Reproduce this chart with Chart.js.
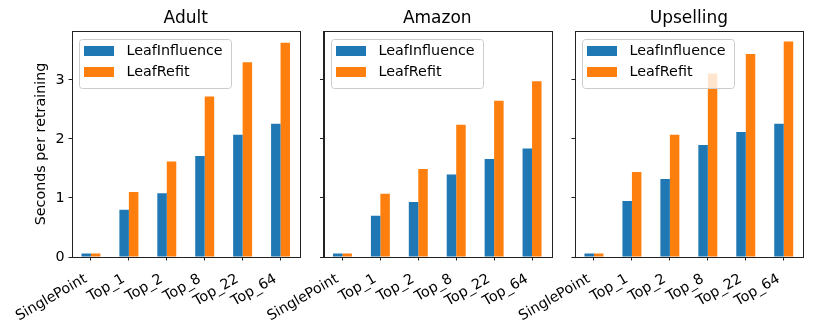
<!DOCTYPE html>
<html>
<head>
<meta charset="utf-8">
<script src="https://cdn.jsdelivr.net/npm/chart.js@4.4.0/dist/chart.umd.min.js"></script>
<style>
  html, body { margin: 0; padding: 0; background: #fff; }
  #wrap { position: relative; width: 818px; height: 322px; }
  #wrap canvas { position: absolute; left: 0; top: 0; }
</style>
</head>
<body>
<div id="wrap">
  <canvas id="c0"></canvas>
  <canvas id="c1"></canvas>
  <canvas id="c2"></canvas>
</div>
<script>
// data
const categories = ['SinglePoint', 'Top_1', 'Top_2', 'Top_8', 'Top_22', 'Top_64'];
const panelTitles = ['Adult', 'Amazon', 'Upselling'];
const seriesNames = ['LeafInfluence', 'LeafRefit'];
const adultInfluence = [0.06, 0.80, 1.08, 1.71, 2.07, 2.26];
const adultRefit = [0.06, 1.10, 1.62, 2.72, 3.30, 3.63];
const amazonInfluence = [0.06, 0.70, 0.93, 1.40, 1.66, 1.84];
const amazonRefit = [0.06, 1.07, 1.49, 2.24, 2.65, 2.98];
const upsellingInfluence = [0.06, 0.95, 1.32, 1.90, 2.12, 2.26];
const upsellingRefit = [0.06, 1.44, 2.07, 3.11, 3.44, 3.65];
const yTicks = [0, 1, 2, 3];
const yMax = 3.83;

const FONT = 'DejaVu Sans';
const FS = 14.3;
const W = 818, H = 322;
const plotLeft = [72, 323.5, 575];
const plotRight = [299.5, 551, 802.7];
const plotBottom = 257;

Chart.defaults.font.family = FONT;
Chart.defaults.color = '#000';

// box around the axes + legend drawn inside like matplotlib
const framePlugin = {
  id: 'frame',
  afterDraw(chart) {
    const ctx = chart.ctx, ca = chart.chartArea;
    ctx.save();
    ctx.strokeStyle = '#222';
    ctx.lineWidth = 1;
    ctx.strokeRect(Math.round(ca.left) + 0.5, Math.round(ca.top) + 0.5,
                   Math.round(ca.right - ca.left), Math.round(ca.bottom - ca.top));

    const x0 = Math.round(ca.left) + 7, y0 = Math.round(ca.top) + 8;
    ctx.beginPath();
    ctx.roundRect(x0 + 0.5, y0 + 0.5, 152, 49, 3);
    ctx.fillStyle = 'rgba(255,255,255,0.8)';
    ctx.fill();
    ctx.strokeStyle = '#cccccc';
    ctx.stroke();
    ctx.font = FS + 'px "' + FONT + '"';
    ctx.textBaseline = 'middle';
    chart.data.datasets.forEach((ds, i) => {
      const py = y0 + 7 + i * 21;
      ctx.fillStyle = ds.backgroundColor;
      ctx.fillRect(x0 + 5, py, 30, 10);
      ctx.fillStyle = '#000';
      ctx.fillText(ds.label, x0 + 47.5, py + 5.5);
    });
    ctx.restore();
  }
};

function makePanel(idx, influence, refit) {
  const canvas = document.getElementById('c' + idx);
  canvas.width = W; canvas.height = H;
  canvas.style.width = W + 'px'; canvas.style.height = H + 'px';
  const yW = idx === 0 ? 38.9 : 10;
  new Chart(canvas, {
    type: 'bar',
    data: {
      labels: categories,
      datasets: [
        { label: seriesNames[0], data: influence, backgroundColor: '#1f77b4',
          categoryPercentage: 0.5, barPercentage: 1.0 },
        { label: seriesNames[1], data: refit, backgroundColor: '#ff7f0e',
          categoryPercentage: 0.5, barPercentage: 1.0 }
      ]
    },
    options: {
      responsive: false,
      animation: false,
      layout: { padding: { left: plotLeft[idx] - yW, right: W - plotRight[idx], top: 0, bottom: 0 } },
      plugins: {
        legend: { display: false },
        tooltip: { enabled: false },
        title: {
          display: true, text: panelTitles[idx], fullSize: false,
          font: { size: 17, weight: 'normal' }, color: '#000',
          padding: { top: 8.3, bottom: 2.3 }
        }
      },
      scales: {
        x: {
          grid: { display: true, drawOnChartArea: false, offset: false, tickLength: 3.5, color: '#222' },
          border: { color: '#222' },
          ticks: { minRotation: 30, maxRotation: 30, autoSkip: false, padding: 10, labelOffset: -5,
                   font: { size: FS }, color: '#000' },
          afterFit: s => { s.height = H - plotBottom; }
        },
        y: {
          min: 0, max: yMax,
          grid: { display: true, drawOnChartArea: false, tickLength: 3.5, color: '#222' },
          border: { color: '#222' },
          ticks: {
            stepSize: 1, padding: 4, font: { size: FS }, color: '#000',
            callback: v => idx === 0 ? String(v) : ''
          },
          afterBuildTicks: s => { s.ticks = s.ticks.filter(t => yTicks.includes(t.value)); },
          afterFit: s => { s.width = yW; },
          title: {
            display: idx === 0, text: 'Seconds per retraining',
            font: { size: FS }, color: '#000', padding: 0
          }
        }
      }
    },
    plugins: [framePlugin]
  });
}

makePanel(0, adultInfluence, adultRefit);
makePanel(1, amazonInfluence, amazonRefit);
makePanel(2, upsellingInfluence, upsellingRefit);
</script>
</body>
</html>
